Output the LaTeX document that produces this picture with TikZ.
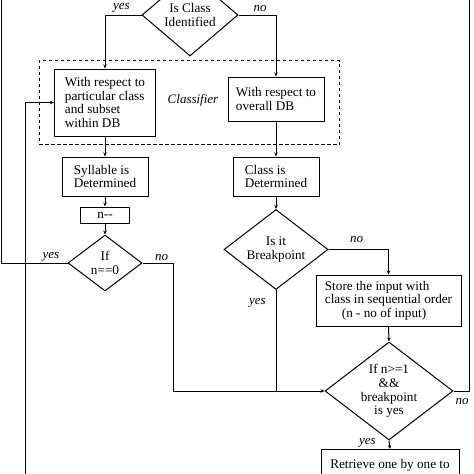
\documentclass[tikz,border=0pt]{standalone}
\usepackage{fontspec}
\setmainfont{Liberation Serif}
\usetikzlibrary{shapes.geometric,arrows.meta,fit,positioning}
\tikzset
{
    stepbox/.style  = {draw=black, align=left, inner sep=0pt, font=\fontsize{13.2}{13.6}\selectfont},
    decision/.style = {diamond, draw=black, align=center, inner sep=0pt, shape aspect=1.3, font=\fontsize{13.2}{13.6}\selectfont},
    branch/.style   = {inner sep=0pt, font=\fontsize{13}{13}\selectfont\itshape}
}

\begin{document}
\begin{tikzpicture}[x=1pt, y=-1pt, line width=1pt, >={Stealth[length=4pt,width=3.5pt]}]
    \clip (0,0) rectangle (474,474);
    % left column
    \node [decision, minimum width=96pt, minimum height=82pt] (isclass) at (190,15) {Is Class\\Identified};
    \node [stepbox, minimum width=101pt, minimum height=67pt] (particular) at (105,102.5) {With respect to\\particular class\\and subset\\within DB};
    \node [stepbox, minimum width=86pt, minimum height=39pt] (syllable) at (105,176.5) {Syllable is\\Determined};
    \node [stepbox, align=center, minimum width=49pt, minimum height=16pt] (decr) at (105,215) {n-{}-};
    \node [decision, minimum width=74pt, minimum height=56pt] (ifzero) at (105,263) {If\\n==0};
    % right column
    \node [stepbox, minimum width=96pt, minimum height=44pt] (overall) at (276,99) {With respect to\\overall DB};
    \node [stepbox, minimum width=86pt, minimum height=39pt] (classdet) at (276,176.5) {Class is\\Determined};
    \node [decision, minimum width=104pt, minimum height=80pt] (breakpt) at (276,249.5) {Is it\\Breakpoint};
    \node [stepbox, minimum width=145pt, minimum height=51pt] (store) at (388.5,300.5) {Store the input with\\class in sequential order\\\hspace*{17pt}(n - no of input)};
    \node [decision, minimum width=128pt, minimum height=98pt] (ifn) at (389,391) {If n>=1\\\&\&\\breakpoint\\is yes};
    \node [stepbox, align=center, anchor=north, minimum width=138pt, minimum height=32pt] (retrieve) at (390,449) {Retrieve one by one to};
    % classifier frame
    \node [draw=black, dash pattern=on 3.5pt off 2.5pt, fit=(particular)(overall), inner xsep=15pt, inner ysep=8pt] (classifier) {};
    \node [branch] (classlabel) at (193,100) {Classifier};
    % loose ends
    \coordinate (loopL) at (1.5,-10);
    \coordinate (loopR) at (469,-10);
    \coordinate (loopB) at (25,490);

    \draw [->] (isclass.west) -| (particular.north);
    \draw [->] (isclass.east) -| (overall.north);
    \draw [->] (particular.south) -- (syllable.north);
    \draw [->] (syllable.south) -- (decr.north);
    \draw [->] (decr.south) -- (ifzero.north);
    \draw (ifzero.west) -| (loopL);
    \draw [->] (ifzero.east) -- ++(31,0) |- (ifn.west);
    \draw [->] (overall.south) -- (classdet.north);
    \draw [->] (classdet.south) -- (breakpt.north);
    \draw [->] (breakpt.east) -| (store.north);
    \draw (breakpt.south) -- (breakpt.south |- ifn.west);
    \draw [->] (store.south) -- (ifn.north);
    \draw (ifn.east) -| (loopR);
    \draw [->] (ifn.south) -- (retrieve.north);
    \draw [->] (loopB) |- (particular.west);

    \node [branch] (yes1) at (121.5,8) {yes};
    \node [branch] (no1) at (260,8) {no};
    \node [branch] (yes2) at (51,257) {yes};
    \node [branch] (no2) at (161.5,257) {no};
    \node [branch] (no3) at (356.5,239) {no};
    \node [branch] (yes3) at (257.5,303) {yes};
    \node [branch] (no4) at (462,401) {no};
    \node [branch] (yes4) at (367.5,443) {yes};
\end{tikzpicture}
\end{document}
